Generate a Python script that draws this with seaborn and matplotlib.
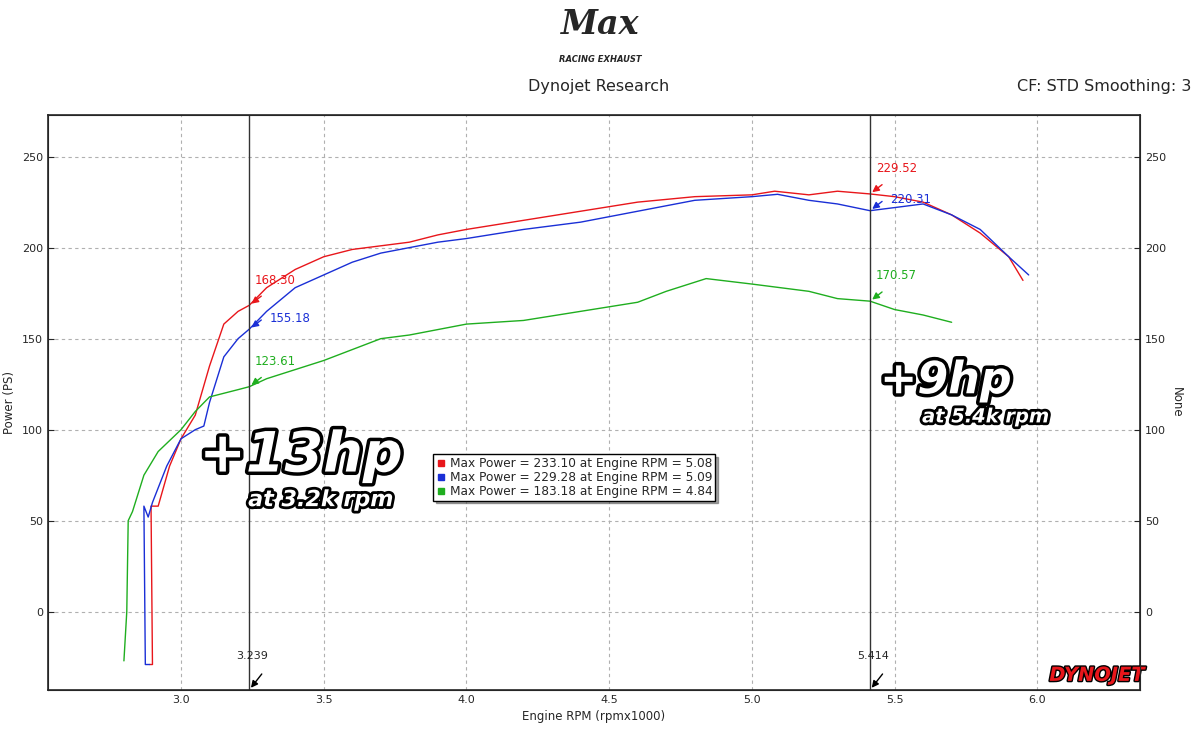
import numpy as np
import pandas as pd
import matplotlib.pyplot as plt
import matplotlib.patheffects as pe
from matplotlib.lines import Line2D
import seaborn as sns

# curvas (rpm x1000, PS)
rpm_rojo = [2.89, 2.90, 2.895, 2.92, 2.96, 3.0, 3.05, 3.10, 3.15, 3.20, 3.239, 3.3, 3.4, 3.5, 3.6, 3.7, 3.8,
            3.9, 4.0, 4.2, 4.4, 4.6, 4.8, 5.0, 5.08, 5.2, 5.3, 5.414, 5.5, 5.6, 5.7, 5.8, 5.9, 5.95]
ps_rojo = [-29, -29, 58, 58, 80, 95, 108, 135, 158, 165, 168.3, 178, 188, 195, 199, 201, 203,
           207, 210, 215, 220, 225, 228, 229, 231, 229, 231, 229.5, 228, 225, 218, 208, 195, 182]
rpm_azul = [2.89, 2.875, 2.87, 2.885, 2.9, 2.95, 3.0, 3.05, 3.08, 3.1, 3.15, 3.2, 3.239, 3.3, 3.4, 3.5, 3.6,
            3.7, 3.8, 3.9, 4.0, 4.2, 4.4, 4.6, 4.8, 5.0, 5.09, 5.2, 5.3, 5.414, 5.5, 5.6, 5.7, 5.8, 5.9, 5.97]
ps_azul = [-29, -29, 58, 52, 60, 80, 95, 100, 102, 115, 140, 150, 155.2, 165, 178, 185, 192,
           197, 200, 203, 205, 210, 214, 220, 226, 228, 229.3, 226, 224, 220.3, 222, 224, 218, 210, 195, 185]
rpm_verde = [2.80, 2.81, 2.815, 2.83, 2.87, 2.92, 3.0, 3.05, 3.1, 3.2, 3.239, 3.3, 3.4, 3.5, 3.6, 3.7, 3.8,
             3.9, 4.0, 4.2, 4.4, 4.6, 4.7, 4.84, 5.0, 5.1, 5.2, 5.3, 5.414, 5.5, 5.6, 5.7]
ps_verde = [-27, 0, 50, 55, 75, 88, 100, 110, 118, 122, 123.6, 128, 133, 138, 144, 150, 152,
            155, 158, 160, 165, 170, 176, 183, 180, 178, 176, 172, 170.6, 166, 163, 159]

cursores = [3.239, 5.414]
leyenda = ['Max Power = 233.10 at Engine RPM = 5.08',
           'Max Power = 229.28 at Engine RPM = 5.09',
           'Max Power = 183.18 at Engine RPM = 4.84']
marcas = {3.239: [168.30, 155.18, 123.61], 5.414: [229.52, 220.31, 170.57]}
colores = ['#e8161b', '#1a2fd6', '#1fae1f']

df = pd.concat([
    pd.DataFrame({'rpm': rpm_rojo, 'ps': ps_rojo, 'serie': leyenda[0]}),
    pd.DataFrame({'rpm': rpm_azul, 'ps': ps_azul, 'serie': leyenda[1]}),
    pd.DataFrame({'rpm': rpm_verde, 'ps': ps_verde, 'serie': leyenda[2]}),
])

sns.set_style('white')
plt.rcParams['font.family'] = ['DejaVu Sans']
fig = plt.figure(figsize=(12, 7.5), dpi=100)
ax = fig.add_axes([0.04, 0.08, 0.91, 0.767])

sns.lineplot(data=df, x='rpm', y='ps', hue='serie', palette=colores, sort=False,
             estimator=None, lw=1, ax=ax, legend=False)

ax.set_xlim(2.534, 6.36)
ax.set_ylim(-43, 273)
ax.set_xticks([3.0, 3.5, 4.0, 4.5, 5.0, 5.5, 6.0])
ax.set_xticklabels(['3.0', '3.5', '4.0', '4.5', '5.0', '5.5', '6.0'])
ax.set_yticks([0, 50, 100, 150, 200, 250])
ax.grid(True, linestyle=(0, (3, 3)), color='#b0b0b0', lw=0.8)
ax.tick_params(labelsize=8, direction='in', length=4)
for s in ax.spines.values():
    s.set_linewidth(1.2)
ax.set_xlabel('Engine RPM (rpmx1000)', fontsize=8.5)
ax.set_ylabel('Power (PS)', fontsize=8.5)
ax2 = ax.twinx()
ax2.set_ylim(ax.get_ylim())
ax2.set_yticks([0, 50, 100, 150, 200, 250])
ax2.tick_params(labelsize=8, direction='in', length=4)
ax2.set_ylabel('None', fontsize=8.5, rotation=270, labelpad=12)

for xc in cursores:
    ax.axvline(xc, color='#333333', lw=1)
    ax.annotate('', xy=(xc, -43), xytext=(xc + 0.05, -33),
                arrowprops=dict(arrowstyle='-|>', color='black', lw=1))
    ax.text(xc + 0.01, -26, f'{xc:.3f}', fontsize=8, ha='center')
    for v, c, dy in zip(marcas[xc], colores, [12, 4, 12]):
        ax.annotate('', xy=(xc, v), xytext=(xc + 0.05, v + 6),
                    arrowprops=dict(arrowstyle='-|>', color=c, lw=1))
        dx = 0.07 if c == colores[1] else 0.02
        ax.text(xc + dx, v + dy, f'{v:.2f}', color=c, fontsize=8.5)

efecto = [pe.withStroke(linewidth=5, foreground='black')]
efecto2 = [pe.withStroke(linewidth=4, foreground='black')]
ax.text(3.42, 77, '+13hp', fontsize=40, fontweight='bold', style='italic', color='white',
        ha='center', path_effects=efecto)
ax.text(3.49, 58, 'at 3.2k rpm', fontsize=16, fontweight='bold', style='italic', color='white',
        ha='center', path_effects=efecto2)
ax.text(5.68, 120, '+9hp', fontsize=32, fontweight='bold', style='italic', color='white',
        ha='center', path_effects=efecto)
ax.text(5.82, 104, 'at 5.4k rpm', fontsize=14, fontweight='bold', style='italic', color='white',
        ha='center', path_effects=efecto2)

handles = [Line2D([], [], marker='s', ls='', color=c, markersize=5) for c in colores]
leg = ax.legend(handles, leyenda, loc='upper left', bbox_to_anchor=(0.347, 0.42), fontsize=8.7,
                frameon=True, fancybox=False, shadow=True, handletextpad=0.2, borderpad=0.2,
                labelspacing=0.1, handlelength=1.0)
leg.get_frame().set_edgecolor('black')

ax.text(6.21, -38, 'DYNOJET', color='#e8161b', fontsize=14, fontweight='bold', style='italic',
        ha='center', path_effects=[pe.withStroke(linewidth=2, foreground='black')])

fig.text(0.5, 0.955, 'Max', fontsize=24, style='italic', fontweight='bold', ha='center',
         family='DejaVu Serif')
fig.text(0.5, 0.918, 'RACING EXHAUST', fontsize=6, style='italic', fontweight='bold', ha='center')
fig.text(0.499, 0.878, 'Dynojet Research', fontsize=11.5, ha='center')
fig.text(0.993, 0.878, 'CF: STD Smoothing: 3', fontsize=11.5, ha='right')

fig.savefig('out.png', dpi=100)
